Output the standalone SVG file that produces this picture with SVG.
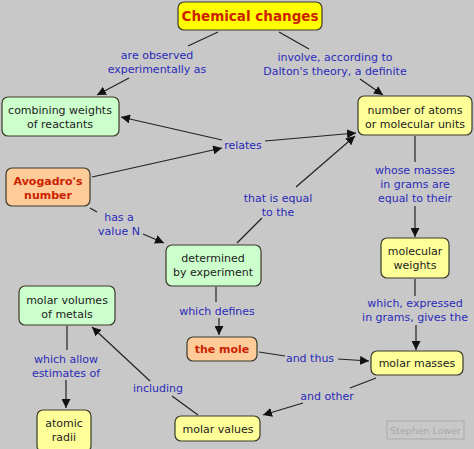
<svg xmlns="http://www.w3.org/2000/svg" width="474" height="449" viewBox="0 0 474 449">
<defs>
<style>
.n rect{stroke:#3a3a2a;stroke-width:1.2}
.g rect{fill:#ccffcc}
.y rect{fill:#ffff99}
.o rect{fill:#ffcc99}
.t{font-family:"DejaVu Sans",Verdana,sans-serif;font-size:11px;fill:#222;text-anchor:middle}
.b{font-weight:bold;fill:#cc2200}
.l{font-family:"DejaVu Sans",Verdana,sans-serif;font-size:11px;fill:#2a2ab8;text-anchor:middle}
#edges line{stroke:#222;stroke-width:1.2}
#edges line.a{marker-end:url(#ah)}
</style>
<marker id="ah" viewBox="0 0 10 10" refX="10" refY="5" markerWidth="9" markerHeight="9" markerUnits="userSpaceOnUse" orient="auto">
<path d="M0,0 L10,5 L0,10 z" fill="#111"/>
</marker>
</defs>
<rect width="474" height="449" fill="#c8c8c8"/>
<g id="edges">
<line x1="218" y1="32" x2="188" y2="46"/>
<line class="a" x1="129" y1="78" x2="97" y2="95"/>
<line x1="279" y1="32" x2="309" y2="49"/>
<line class="a" x1="360" y1="79" x2="383" y2="95"/>
<line class="a" x1="222" y1="140" x2="121" y2="117"/>
<line class="a" x1="265" y1="141" x2="356" y2="133"/>
<line class="a" x1="92" y1="177" x2="222" y2="148"/>
<line x1="237" y1="243" x2="262" y2="218"/>
<line class="a" x1="296" y1="187" x2="355" y2="136"/>
<line x1="90" y1="208" x2="97" y2="212"/>
<line class="a" x1="143" y1="234" x2="164" y2="243"/>
<line x1="415" y1="136" x2="415" y2="162"/>
<line class="a" x1="415" y1="206" x2="415" y2="237"/>
<line x1="415" y1="279" x2="415" y2="296"/>
<line class="a" x1="416" y1="325" x2="416" y2="350"/>
<line x1="216" y1="287" x2="216" y2="302"/>
<line class="a" x1="219" y1="318" x2="219" y2="335"/>
<line x1="259" y1="352" x2="285" y2="356"/>
<line class="a" x1="338" y1="359" x2="369" y2="361"/>
<line x1="376" y1="378" x2="350" y2="388"/>
<line class="a" x1="303" y1="403" x2="263" y2="415"/>
<line x1="198" y1="415" x2="172" y2="396"/>
<line class="a" x1="150" y1="381" x2="92" y2="327"/>
<line x1="67" y1="326" x2="67" y2="350"/>
<line class="a" x1="66" y1="380" x2="66" y2="408"/>
</g>
<g id="chemical-changes" class="n"><rect x="178" y="2" width="144" height="28" rx="6" fill="#ffff00" stroke="#5a5a20"/><text class="t b" x="250" y="21" style="font-size:13.5px">Chemical changes</text></g>
<g id="combining-weights" class="n g"><rect x="2" y="97" width="117" height="39" rx="6"/><text class="t" x="60" y="114">combining weights</text><text class="t" x="60" y="128">of reactants</text></g>
<g id="number-of-atoms" class="n y"><rect x="358" y="96" width="114" height="39" rx="6"/><text class="t" x="415" y="114">number of atoms</text><text class="t" x="415" y="128">or molecular units</text></g>
<g id="avogadro" class="n o"><rect x="6" y="168" width="84" height="38" rx="6"/><text class="t b" x="48" y="185">Avogadro's</text><text class="t b" x="48" y="199">number</text></g>
<g id="determined" class="n g"><rect x="166" y="245" width="95" height="41" rx="6"/><text class="t" x="213" y="262">determined</text><text class="t" x="213" y="276">by experiment</text></g>
<g id="molecular-weights" class="n y"><rect x="381" y="238" width="68" height="40" rx="6"/><text class="t" x="415" y="255">molecular</text><text class="t" x="415" y="269">weights</text></g>
<g id="molar-volumes" class="n g"><rect x="19" y="286" width="96" height="39" rx="6"/><text class="t" x="67" y="304">molar volumes</text><text class="t" x="67" y="318">of metals</text></g>
<g id="the-mole" class="n o"><rect x="187" y="337" width="70" height="24" rx="6"/><text class="t b" x="222" y="353">the mole</text></g>
<g id="molar-masses" class="n y"><rect x="371" y="351" width="92" height="24" rx="6"/><text class="t" x="417" y="367">molar masses</text></g>
<g id="atomic-radii" class="n y"><rect x="37" y="410" width="54" height="42" rx="6"/><text class="t" x="64" y="427">atomic</text><text class="t" x="64" y="441">radii</text></g>
<g id="molar-values" class="n y"><rect x="175" y="416" width="85" height="25" rx="6"/><text class="t" x="218" y="433">molar values</text></g>
<g id="credit"><rect x="387" y="421" width="77" height="18" fill="none" stroke="#aaa" stroke-width="1"/><text x="425.5" y="434" font-family="DejaVu Sans,Verdana,sans-serif" font-size="9.5" fill="#a8a8a8" text-anchor="middle">Stephen Lower</text></g>
<g id="labels">
<text class="l" x="157" y="59">are observed</text><text class="l" x="157" y="73">experimentally as</text>
<text class="l" x="335" y="61">involve, according to</text><text class="l" x="335" y="75">Dalton's theory, a definite</text>
<text class="l" x="243" y="149">relates</text>
<text class="l" x="119" y="221">has a</text><text class="l" x="119" y="235">value N</text>
<text class="l" x="278" y="202">that is equal</text><text class="l" x="278" y="216">to the</text>
<text class="l" x="415" y="174">whose masses</text><text class="l" x="415" y="188">in grams are</text><text class="l" x="415" y="202">equal to their</text>
<text class="l" x="217" y="315">which defines</text>
<text class="l" x="415" y="307">which, expressed</text><text class="l" x="415" y="321">in grams, gives the</text>
<text class="l" x="310" y="362">and thus</text>
<text class="l" x="66" y="363">which allow</text><text class="l" x="66" y="377">estimates of</text>
<text class="l" x="158" y="392">including</text>
<text class="l" x="327" y="400">and other</text>
</g>
</svg>
